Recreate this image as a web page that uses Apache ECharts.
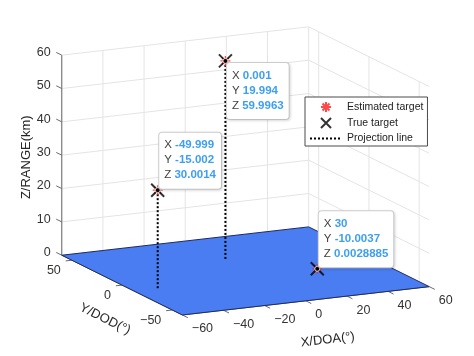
<!DOCTYPE html>
<html><head><meta charset="utf-8">
<script src="https://cdn.jsdelivr.net/npm/echarts@6/dist/echarts.min.js"></script>
<style>html,body{margin:0;padding:0;background:#fff}#c{width:474px;height:356px}</style>
</head><body><div id="c"></div>
<script>
// ---------------- data ----------------
const xTicks = [-60, -40, -20, 0, 20, 40, 60];
const yTicks = [-50, 0, 50];
const zTicks = [0, 10, 20, 30, 40, 50, 60];
const xRange = [-60, 60];
const yRange = [-60, 60];
const zRange = [0, 60];
const estX = [0.001, -49.999, 30];
const estY = [19.994, -15.002, -10.0037];
const estZ = [59.9963, 30.0014, 0.0028885];
const trueX = [0, -50, 30];
const trueY = [20, -15, -10];
const trueZ = [60, 30, 0];
const xName = 'X/DOA(°)';
const yName = 'Y/DOD(°)';
const zName = 'Z/RANGE(km)';
const seriesNames = ['Estimated target', 'True target', 'Projection line'];

// ---------------- view / style ----------------
const view = { az: -25.7, el: 13.8, box: [274, 278, 206], center: [245.5, 170.9] };
const FONT = '"Liberation Sans", Arial, Helvetica, sans-serif';
const deg = Math.PI / 180;
function project(x, y, z) {
  const a = view.az * deg, e = view.el * deg;
  const nx = (x - (xRange[0] + xRange[1]) / 2) / (xRange[1] - xRange[0]) * view.box[0];
  const ny = (y - (yRange[0] + yRange[1]) / 2) / (yRange[1] - yRange[0]) * view.box[1];
  const nz = (z - (zRange[0] + zRange[1]) / 2) / (zRange[1] - zRange[0]) * view.box[2];
  const r = nx * Math.cos(a) + ny * Math.sin(a);
  const u = -nx * Math.sin(a) * Math.sin(e) + ny * Math.cos(a) * Math.sin(e) + nz * Math.cos(e);
  return [view.center[0] + r, view.center[1] - u];
}
const fmtTick = v => (v < 0 ? '\u2212' + Math.abs(v) : String(v));

function seg(api, a, b, style) {
  const p = api.coord(project(a[0], a[1], a[2]));
  const q = api.coord(project(b[0], b[1], b[2]));
  return { type: 'line', shape: { x1: p[0], y1: p[1], x2: q[0], y2: q[1] }, style: style };
}
function txt(api, pt3, dx, dy, text, align, vAlign, size, color) {
  const p = api.coord(project(pt3[0], pt3[1], pt3[2]));
  return { type: 'text', style: { text: text, x: p[0] + dx, y: p[1] + dy, align: align, verticalAlign: vAlign,
    fontSize: size, fontFamily: FONT, fill: color } };
}
function axisName(api, a, b, dx, dy, text) {
  const p = api.coord(project(a[0], a[1], a[2]));
  const q = api.coord(project(b[0], b[1], b[2]));
  let ang = Math.atan2(-(q[1] - p[1]), q[0] - p[0]);
  if (Math.abs(q[0] - p[0]) < 1e-6) ang = Math.PI / 2;
  const m = [(p[0] + q[0]) / 2 + dx, (p[1] + q[1]) / 2 + dy];
  return { type: 'text', x: m[0], y: m[1], rotation: ang,
    style: { text: text, x: 0, y: 0, align: 'center', verticalAlign: 'middle', fontSize: 13, fontFamily: FONT, fill: '#262626' } };
}

function renderFrame(params, api) {
  const [x0, x1] = xRange, [y0, y1] = yRange, [z0, z1] = zRange;
  const ch = [];
  const g = { stroke: '#e4e4e4', lineWidth: 1 };
  xTicks.forEach(t => ch.push(seg(api, [t, y1, z0], [t, y1, z1], g)));
  zTicks.forEach(t => ch.push(seg(api, [x0, y1, t], [x1, y1, t], g)));
  yTicks.forEach(t => ch.push(seg(api, [x1, t, z0], [x1, t, z1], g)));
  zTicks.forEach(t => ch.push(seg(api, [x1, y0, t], [x1, y1, t], g)));
  const ax = { stroke: '#6a6a6a', lineWidth: 1 };
  ch.push(seg(api, [x0, y1, z0], [x0, y1, z1], ax));
  ch.push(seg(api, [x0, y0, z0], [x1, y0, z0], ax));
  ch.push(seg(api, [x0, y0, z0], [x0, y1, z0], ax));
  const TLY = 5.5, TLX = 3;
  zTicks.forEach(t => ch.push(seg(api, [x0, y1, t], [x0, y1 + TLY, t], ax)));
  xTicks.forEach(t => ch.push(seg(api, [t, y0, z0], [t, y0 - TLY, z0], ax)));
  yTicks.forEach(t => ch.push(seg(api, [x0, t, z0], [x0 - TLX, t, z0], ax)));
  zTicks.forEach(t => ch.push(txt(api, [x0, y1, t], -11, -2.5, fmtTick(t), 'right', 'middle', 12.5, '#333')));
  xTicks.forEach(t => ch.push(txt(api, [t, y0, z0], 9.5, 14, fmtTick(t), 'left', 'middle', 12.5, '#333')));
  yTicks.forEach(t => ch.push(txt(api, [x0, t, z0], -11, 10.5, fmtTick(t), 'right', 'middle', 12.5, '#333')));
  ch.push(axisName(api, [x0, y1, z0], [x0, y1, z1], -35, 2, zName));
  ch.push(axisName(api, [x0, y1, z0], [x0, y0, z0], -17, 34, yName));
  ch.push(axisName(api, [x0, y0, z0], [x1, y0, z0], 22, 39, xName));
  return { type: 'group', children: ch };
}

function renderFloor(params, api) {
  const [x0, x1] = xRange, [y0, y1] = yRange, z0 = zRange[0];
  const pts = [[x0, y0], [x1, y0], [x1, y1], [x0, y1]].map(p => api.coord(project(p[0], p[1], z0)));
  return { type: 'polygon', shape: { points: pts },
    style: { fill: '#4a7df1', stroke: '#1d2b63', lineWidth: 1, lineJoin: 'round' } };
}

function renderTip(params, api) {
  const i = params.dataIndex;
  const p = api.coord(project(estX[i], estY[i], estZ[i]));
  const below = estZ[i] > 45; // tip drawn under the point when it sits at the top
  const text = '{k|X }{v|' + estX[i] + '}\n{k|Y }{v|' + estY[i] + '}\n{k|Z }{v|' + estZ[i] + '}';
  return { type: 'text', style: {
    text: text, x: p[0] + 1.5, y: p[1] + (below ? 2 : -1.5), align: 'left', verticalAlign: below ? 'top' : 'bottom',
    backgroundColor: '#ffffff', borderColor: '#d0d0d0', borderWidth: 1, borderRadius: 3,
    padding: [5, 5, 6, 5], lineHeight: 15,
    shadowColor: 'rgba(0,0,0,0.12)', shadowBlur: 3, shadowOffsetX: 1, shadowOffsetY: 1,
    rich: {
      k: { fontSize: 11.5, fontFamily: FONT, fill: '#404040', lineHeight: 15 },
      v: { fontSize: 11.5, fontFamily: FONT, fontWeight: 'bold', fill: '#3d9ff2', lineHeight: 15 }
    } } };
}

const estPts = estX.map((v, i) => project(estX[i], estY[i], estZ[i]));
const truePts = trueX.map((v, i) => project(trueX[i], trueY[i], trueZ[i]));
const lineSeries = estX.map((v, i) => ({
  type: 'line', name: seriesNames[2], z: 3, silent: true, symbol: 'none', showSymbol: false,
  data: [project(estX[i], estY[i], estZ[i]), project(estX[i], estY[i], zRange[0])],
  lineStyle: { color: '#000', width: 2, type: 'dotted' }, itemStyle: { color: '#000' }
}));

const option = {
  animation: false,
  grid: { left: 0, right: 0, top: 0, bottom: 0 },
  xAxis: { type: 'value', min: 0, max: 474, show: false },
  yAxis: { type: 'value', min: 0, max: 356, inverse: true, show: false },
  legend: {
    data: [seriesNames[0], seriesNames[1], { name: seriesNames[2], itemStyle: { opacity: 0 } }],
    orient: 'vertical', left: 305, top: 97,
    itemWidth: 32, itemHeight: 10, itemGap: 4, padding: [4, 4, 2, 4],
    backgroundColor: '#fff', borderColor: '#4a4a4a', borderWidth: 1, borderRadius: 0,
    textStyle: { fontSize: 10.5, fontFamily: FONT, color: '#222' }, selectedMode: false
  },
  series: [
    { type: 'custom', z: 1, silent: true, clip: false, data: [[0, 0]], renderItem: renderFrame },
    { type: 'custom', z: 2, silent: true, clip: false, data: [[0, 0]], renderItem: renderFloor },
    ...lineSeries,
    { type: 'scatter', name: seriesNames[0], z: 4, silent: true, data: estPts,
      symbol: 'path://M5,0L5,10M0,5L10,5M1.5,1.5L8.5,8.5M1.5,8.5L8.5,1.5', symbolSize: 10, symbolKeepAspect: true,
      itemStyle: { color: '#ff1a1a', borderColor: '#ff1a1a', borderWidth: 1.3 } },
    { type: 'scatter', name: seriesNames[1], z: 4, silent: true, data: truePts,
      symbol: 'path://M0,0L10,10M0,10L10,0', symbolSize: 13, symbolKeepAspect: true,
      itemStyle: { color: '#000', borderColor: '#000', borderWidth: 2 } },
    { type: 'scatter', name: 'tipdot', z: 5, silent: true, data: estPts, symbol: 'circle', symbolSize: 5,
      itemStyle: { color: '#000', borderColor: '#fff', borderWidth: 1 } },
    { type: 'custom', z: 6, silent: true, clip: false, data: estPts, renderItem: renderTip }
  ]
};
const chart = echarts.init(document.getElementById('c'));
chart.setOption(option);
</script></body></html>
